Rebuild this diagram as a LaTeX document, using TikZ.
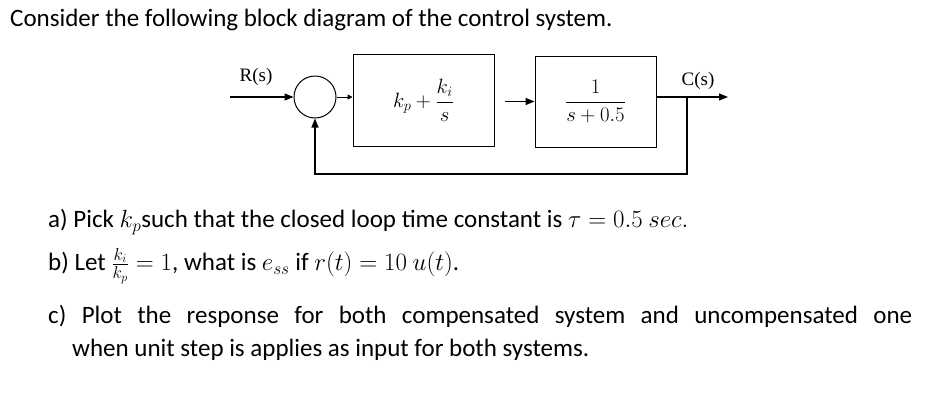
\documentclass[tikz,border=0pt]{standalone}
\usepackage{amsmath}
\usepackage{fontspec}
\setmainfont{Carlito}
\usetikzlibrary{arrows.meta}
\begin{document}
\begin{tikzpicture}[x=1pt,y=-1pt,
  blk/.style={draw,line width=1pt,inner sep=0pt,font=\fontsize{22}{26}\selectfont},
  sig/.style={line width=1.2pt,-{Triangle[length=9pt,width=7pt]}},
  txt/.style={anchor=west,inner sep=0pt,font=\fontsize{25}{30}\selectfont},
  lab/.style={inner sep=0pt,font=\fontsize{19}{22}\selectfont}]
\useasboundingbox (0,0) rectangle (941,413);
\node[draw,line width=1pt,circle,minimum size=42pt,inner sep=0pt] (sum) at (315,97) {};
\node[blk,minimum width=141pt,minimum height=92pt] (c) at (423.5,100) {$k_p+\dfrac{k_i}{s}$};
\node[blk,minimum width=121pt,minimum height=91pt] (p) at (595.5,101.5) {$\dfrac{1}{s+0.5}$};
\coordinate (in) at (230,97);
\coordinate (out) at (728,97);
\coordinate (br) at (687,97);
\coordinate (fb) at (687,174);
\node[lab] (rl) at (256,77) {\fontspec{Liberation Serif}R(s)};
\node[lab] (cl) at (698,81) {\fontspec{Liberation Serif}C(s)};
\draw[sig] (in) -- (sum.west);
\draw[line width=1pt,-{Triangle[length=5pt,width=5pt]}] (sum.east) -- (c.west |- sum.east);
\draw[sig] (c.east |- p.west) ++(10,0) coordinate (m) -- (p.west);
\draw[sig] (p.east |- out) -- (out);
\draw[sig] (br) -- (fb) -| (sum.south);
\node[txt] (t0) at (10,20) {Consider the following block diagram of the control system.};
\node[txt] (ta) at (48,222) {a) Pick $k_p$such that the closed loop time constant is $\tau=0.5\ sec.$};
\node[txt] (tb) at (48,266) {b) Let $\frac{k_i}{k_p}=1$, what is $e_{ss}$ if $r(t)=10\ u(t)$.};
\node[txt] (tc) at (48,316) {\makebox[864pt][s]{c) Plot the response for both compensated system and uncompensated one}};
\node[txt] (tc2) at (72,350) {when unit step is applies as input for both systems.};
\end{tikzpicture}
\end{document}
